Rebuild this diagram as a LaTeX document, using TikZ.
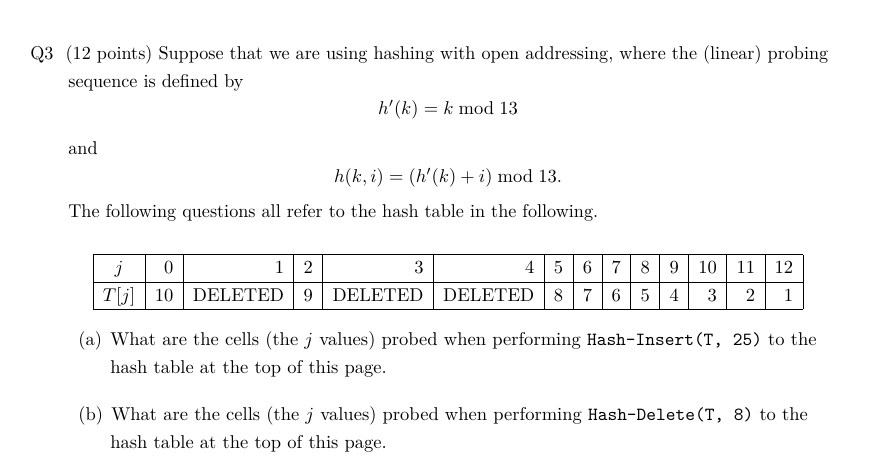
\documentclass[tikz,border=0pt]{standalone}
\usepackage{amsmath}
\begin{document}
\begin{tikzpicture}[x=0.54pt,y=-0.54pt,
  txt/.style={anchor=west,inner sep=0pt,xscale=0.98},
  itm/.style={anchor=west,inner sep=0pt},
  ctr/.style={anchor=center,inner sep=0pt}]
\useasboundingbox (0,0) rectangle (880,472);
\node[txt] (l1) at (30,55) {Q3\ \ (12 points) Suppose that we are using hashing with open addressing, where the (linear) probing};
\node[txt] (l2) at (68,83) {sequence is defined by};
\node[ctr] (e1) at (448,110) {$h'(k) = k \bmod 13$};
\node[txt] (l3) at (68,148) {and};
\node[ctr] (e2) at (448,178) {$h(k,i) = (h'(k)+i) \bmod 13.$};
\node[txt] (l4) at (68,213) {The following questions all refer to the hash table in the following.};
\node[ctr] (tab) at (448,282) {\setlength\tabcolsep{5.3pt}\renewcommand\arraystretch{1.2}\begin{tabular}{|c|r|r|r|r|r|r|r|r|r|r|r|r|r|}\hline
$j$ & 0 & 1 & 2 & 3 & 4 & 5 & 6 & 7 & 8 & 9 & 10 & 11 & 12\\\hline
$T[j]$ & 10 & DELETED & 9 & DELETED & DELETED & 8 & 7 & 6 & 5 & 4 & 3 & 2 & 1\\\hline
\end{tabular}};
\node[itm] (a1) at (78,341) {(a)\hspace{0.45em}What are the cells (the $j$ values) probed when performing \texttt{Hash-Insert(T, 25)} to the};
\node[itm] (a2) at (110,369) {hash table at the top of this page.};
\node[itm] (b1) at (78,416) {(b)\hspace{0.45em}What are the cells (the $j$ values) probed when performing \texttt{Hash-Delete(T, 8)} to the};
\node[itm] (b2) at (110,444) {hash table at the top of this page.};
\end{tikzpicture}
\end{document}
